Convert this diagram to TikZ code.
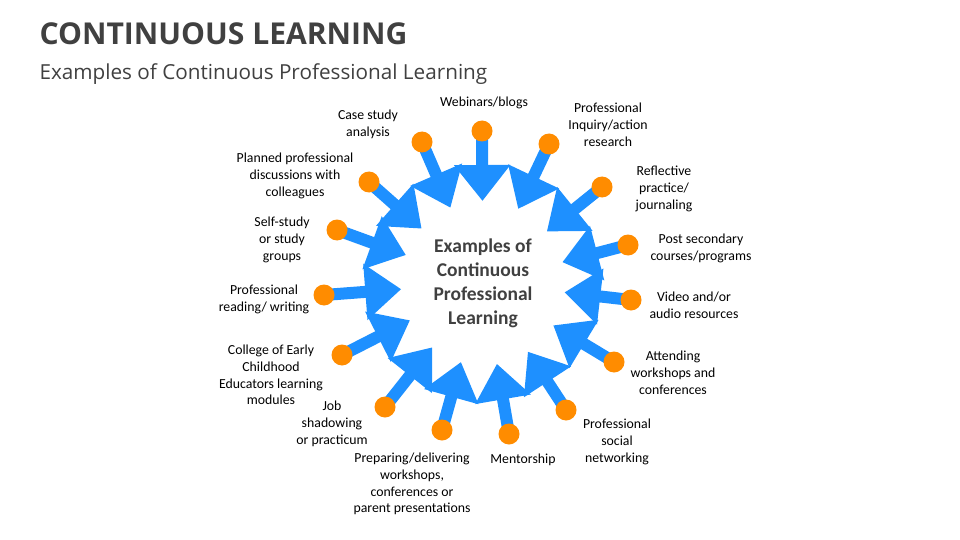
\documentclass[tikz,border=0pt]{standalone}
\usepackage{fontspec}
\setmainfont{Carlito}
\newfontfamily\titlefont{Open Sans}
\usetikzlibrary{arrows.meta,calc}
\definecolor{arrblue}{RGB}{30,144,255}
\definecolor{dotor}{RGB}{255,140,0}
\definecolor{txt}{RGB}{64,64,64}
\begin{document}
\begin{tikzpicture}[x=1pt,y=-1pt,
  arr/.style={draw=arrblue,line width=12pt,-{Triangle[width=54pt,length=36pt]},arrblue},
  dot/.style={circle,fill=dotor,minimum size=21pt,inner sep=0pt},
  lbl/.style={align=center,font=\fontsize{13.8}{16.8}\selectfont,text=black}]
\useasboundingbox (0,0) rectangle (960,540);
\node[anchor=west,font=\titlefont\bfseries\fontsize{30.1}{36}\selectfont,text=txt] (title) at (36,34) {CONTINUOUS LEARNING};
\node[anchor=west,font=\titlefont\fontsize{20.7}{24}\selectfont,text=txt] (sub) at (36,74) {Examples of Continuous Professional Learning};
\coordinate (ctr) at (483,283);
\foreach \n/\x/\y in {1/482/131,2/549/144,3/602/187,4/628/245,5/631/300,6/614/362,7/566/410,8/509/434,9/442/430,10/385/407,11/342/355,12/324/295,13/337/230,14/369/182,15/422/142}{
  \coordinate (p\n) at (\x,\y);
  \draw[arr] (p\n) -- ($(ctr)!82pt!(p\n)$);
}
\foreach \n in {1,...,15}{ \node[dot] (d\n) at (p\n) {}; }
\node[align=center,font=\bfseries\fontsize{19.5}{24}\selectfont,text=txt] (center) at (ctr) {Examples of\\Continuous\\Professional\\Learning};
\node[lbl] (l15) at (368,124) {Case study\\analysis};
\node[lbl] (l1) at (484,103) {Webinars/blogs};
\node[lbl] (l2) at (608,125) {Professional\\Inquiry/action\\research};
\node[lbl] (l3) at (664,189) {Reflective\\practice/\\journaling};
\node[lbl] (l4) at (701,248) {Post secondary\\courses/programs};
\node[lbl] (l5) at (694,305) {Video and/or\\audio resources};
\node[lbl] (l6) at (673,373) {Attending\\workshops and\\conferences};
\node[lbl] (l7) at (617,442) {Professional\\social\\networking};
\node[lbl] (l8) at (523,460) {Mentorship};
\node[lbl] (l9) at (412,484) {Preparing/delivering\\workshops,\\conferences or\\parent presentations};
\node[lbl] (l10) at (332,424) {Job\\shadowing\\or practicum};
\node[lbl] (l11) at (271,375) {College of Early\\Childhood\\Educators learning\\modules};
\node[lbl] (l12) at (264,299) {Professional\\reading/ writing};
\node[lbl] (l13) at (282,240) {Self-study\\or study\\groups};
\node[lbl] (l14) at (295,176) {Planned professional\\discussions with\\colleagues};
\end{tikzpicture}
\end{document}
